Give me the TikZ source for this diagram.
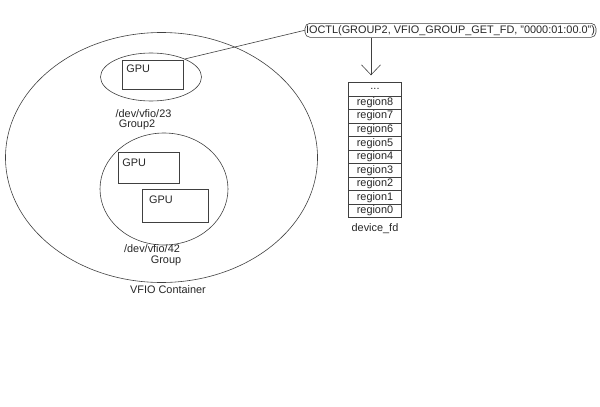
\documentclass[tikz,border=0pt]{standalone}
\usepackage{fontspec}
\setmainfont{Liberation Sans}
\usetikzlibrary{shapes.geometric,arrows.meta}
\begin{document}
\begin{tikzpicture}[x=1pt,y=-1pt,
  every node/.style={font=\fontsize{10.9}{13}\selectfont, text=black!85},
  ln/.style={draw=black!75, line width=0.6pt},
  oval/.style={ln, ellipse, inner sep=0pt},
  gpubox/.style={ln, rectangle, inner sep=0pt, anchor=north west},
  gputext/.style={anchor=north west, inner sep=0pt},
  txt/.style={inner sep=0pt},
  cell/.style={ln, rectangle, minimum width=53.4pt, minimum height=13.54pt, inner sep=0pt, outer sep=0pt, anchor=north},
  arr/.style={ln, -{Straight Barb[length=10pt,width=19pt]}}
]
\useasboundingbox (0,0) rectangle (600,407);
% container
\node[oval, minimum width=312pt, minimum height=250pt] (cont) at (161.5,157.5) {};
\node[txt] (contlbl) at (168,289.5) {VFIO Container};
% group2
\node[oval, minimum width=101pt, minimum height=48pt] (g2) at (151,77) {};
\node[gpubox, minimum width=60.4pt, minimum height=29.3pt] (gpu1) at (122.3,60) {};
\node[gputext] at ([shift={(3.8,4.6)}]gpu1.north west) {GPU};
\node[txt] (g2a) at (143.5,114) {/dev/vfio/23};
\node[txt] (g2b) at (137,125) {Group2};
% group
\node[oval, minimum width=128pt, minimum height=112pt] (g1) at (164,189) {};
\node[gpubox, minimum width=61.6pt, minimum height=31.3pt] (gpu2) at (117.7,151.7) {};
\node[gputext] at ([shift={(4.4,7.2)}]gpu2.north west) {GPU};
\node[gpubox, minimum width=65.4pt, minimum height=33pt] (gpu3) at (142.3,189) {};
\node[gputext] at ([shift={(6.6,6.2)}]gpu3.north west) {GPU};
\node[txt] (g1a) at (152,249) {/dev/vfio/42};
\node[txt] (g1b) at (166,261) {Group};
% ioctl
\node[ln, rounded corners=5pt, minimum width=291pt, minimum height=14pt, inner sep=0pt] (ioctl) at (450.5,30.3) {IOCTL(GROUP2, VFIO\_GROUP\_GET\_FD, "0000:01:00.0")};
% stack
\node[cell] (r9) at (375,82.3) {...};
\node[cell] (r8) at (r9.south) {region8};
\node[cell] (r7) at (r8.south) {region7};
\node[cell] (r6) at (r7.south) {region6};
\node[cell] (r5) at (r6.south) {region5};
\node[cell] (r4) at (r5.south) {region4};
\node[cell] (r3) at (r4.south) {region3};
\node[cell] (r2) at (r3.south) {region2};
\node[cell] (r1) at (r2.south) {region1};
\node[cell] (r0) at (r1.south) {region0};
\node[txt] (fd) at (375,228.5) {device\_fd};
% connectors
\draw[ln] (g2.28) -- (ioctl.west);
\draw[arr, shorten >=7pt] (ioctl.south -| 371,0) -- (371,0 |- r9.north);
\end{tikzpicture}
\end{document}
